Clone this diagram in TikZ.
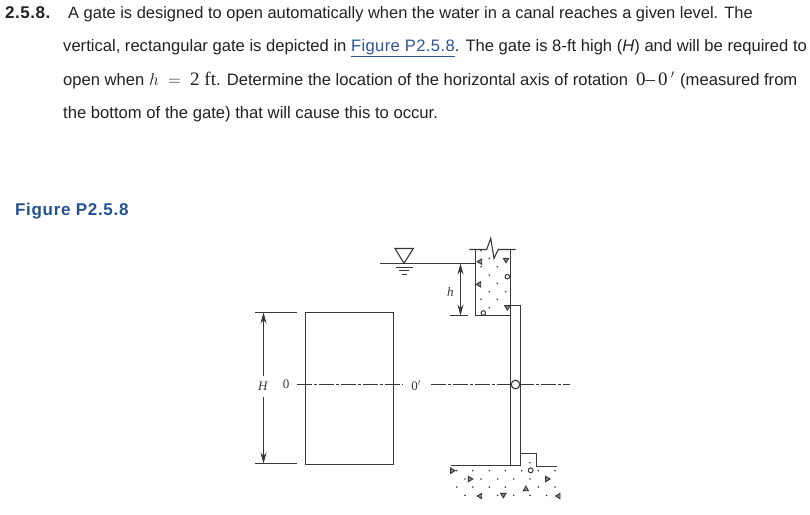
\documentclass[tikz,border=0pt]{standalone}
\usepackage{fontspec}
\setmainfont{Liberation Sans}
\newfontfamily\serifnum{Liberation Serif}
\usetikzlibrary{arrows.meta}
\definecolor{ink}{HTML}{222222}
\definecolor{linecol}{HTML}{383838}
\definecolor{linkblue}{HTML}{2F5597}
\definecolor{headblue}{HTML}{22528F}
\newcommand{\tri}[3]{\draw[linecol,line width=.9pt,fill=linecol!60,rotate around={#3:({370+#1/3},{230+#2/3})}] ({370+#1/3+2.8},{230+#2/3}) -- ({370+#1/3-1.7},{230+#2/3-2.7}) -- ({370+#1/3-1.7},{230+#2/3+2.7}) -- cycle;}
\newcommand{\trig}[3]{\draw[linecol,line width=.9pt,fill=linecol!60,rotate around={#3:({430+#1/3},{360+#2/3})}] ({430+#1/3+2.8},{360+#2/3}) -- ({430+#1/3-1.7},{360+#2/3-2.7}) -- ({430+#1/3-1.7},{360+#2/3+2.7}) -- cycle;}
\tikzset{
  x=1pt,y=-1pt,
  para/.style={anchor=base west,inner sep=0pt,text=ink,font=\fontsize{16.6}{19}\selectfont},
  lab/.style={inner sep=0pt,text=linecol,font=\serifnum\fontsize{13}{14}\selectfont},
  obj/.style={draw=linecol,line width=1.1pt},
  thin line/.style={draw=linecol,line width=1pt},
  axisline/.style={draw=linecol,line width=1pt,dash pattern=on 15pt off 2pt on 3pt off 2pt},
  dimarrow/.style={draw=linecol,line width=.7pt,-{Stealth[length=11pt,width=6pt]}},
}
\begin{document}
\begin{tikzpicture}
\useasboundingbox (0,0) rectangle (810,514);
\fill[white] (0,0) rectangle (810,514);

% text
\node[para,font=\fontsize{17}{19}\selectfont\bfseries\addfontfeature{LetterSpace=3}] (num) at (5,18.5) {2.5.8.};
\node[para,font=\fontsize{16.45}{19}\selectfont] (l1) at (68,18.5) {A gate is designed to open automatically when the water in a canal reaches a given level. The};
\node[para] (l2) at (63,51) {vertical, rectangular gate is depicted in \textcolor{linkblue}{\underline{\addfontfeature{LetterSpace=2.2}Figure P2.5.8}}. The gate is 8-ft high (\textit{H}) and will be required to};
\node[para] (l3) at (63,85) {open when {\fontsize{18.5}{19}\selectfont$h\;=\;$} {\serifnum\fontsize{19}{19}\selectfont 2 ft}. Determine the location of the horizontal axis of rotation {\serifnum\fontsize{19}{19}\selectfont \,0–\,0\,}$'$\,\,(measured from};
\node[para,font=\fontsize{16.65}{19}\selectfont] (l4) at (63,118) {the bottom of the gate) that will cause this to occur.};
\node[para,text=headblue,font=\fontsize{17}{19}\selectfont\bfseries\addfontfeature{LetterSpace=4}] (figt) at (15,215) {Figure P2.5.8};

% front view
\node[obj,minimum width=88pt,minimum height=152pt,inner sep=0pt] (plate) at (349.5,388.5) {};
\coordinate (tickTL) at (255,312.5); \coordinate (tickTR) at (296.7,312.5);
\coordinate (tickBL) at (255,463.5); \coordinate (tickBR) at (296.7,463.5);
\draw[thin line] (tickTL) -- (tickTR);
\draw[thin line] (tickBL) -- (tickBR);
\node[lab,font=\serifnum\itshape\fontsize{13}{14}\selectfont] (H) at (262.7,386.7) {H};
\node[lab] (zero) at (286,384.5) {0};
\node[lab] (zerop) at (416,385.5) {0$'$};
\coordinate (Htop) at (263.5,312.5); \coordinate (Hbot) at (263.5,463.5);
\coordinate (Hgap1) at (263.5,376); \coordinate (Hgap2) at (263.5,397);
\draw[dimarrow] (Hgap1) -- (Htop);
\draw[dimarrow] (Hgap2) -- (Hbot);
\coordinate (axA) at (296.7,384.5); \coordinate (axB) at (402.7,384.5);
\draw[axisline] (axA) -- (axB);

% section: wall
\coordinate (wTL) at (475.5,249.5); \coordinate (wBL) at (475.5,315.5);
\coordinate (wBR) at (510.5,315.5); \coordinate (wTR) at (510.5,249.5);
\draw[obj] (wTR) -- (wBR) -- (wBL) -- (wTL);
\draw[obj,line join=miter] (469.3,249.5) -- (486.7,249.5) -- (490.7,238.3) -- (494,258.3) -- (498.3,249.5) -- (515.7,249.5);

% water
\coordinate (wlA) at (380,263.5); \coordinate (wlB) at (475.5,263.5);
\draw[obj] (wlA) -- (wlB);
\draw[obj,line join=miter] (395,248.5) -- (413.3,248.5) -- (404,263.3) -- cycle;
\draw[obj] (396,267.5) -- (412.7,267.5);
\draw[obj] (399.3,270.5) -- (409.3,270.5);
\draw[obj] (401.7,274.5) -- (406.7,274.5);

% h dimension
\coordinate (hTop) at (460.5,263.5); \coordinate (hBot) at (460.5,315.5);
\coordinate (hMid) at (460.5,289);
\draw[dimarrow] (hMid) -- (hTop);
\draw[dimarrow] (hMid) -- (hBot);
\draw[obj] (450,315.5) -- (468.3,315.5);
\node[lab,font=\serifnum\itshape\fontsize{13}{14}\selectfont] (hlab) at (450.3,291.5) {h};

% gate
\coordinate (gTL) at (510.5,305.5); \coordinate (gTR) at (520.5,305.5);
\coordinate (gBR) at (520.5,465.5); \coordinate (gBL) at (510.5,465.5);
\draw[obj] (gTL) -- (gTR) -- (gBR);
\draw[obj] (gTL) -- (gBL);

% ground
\draw[obj] (450.7,465.5) -- (520.5,465.5);
\draw[obj] (520.5,453.5) -- (536.5,453.5) -- (536.5,466.5) -- (556.7,466.5);

% axis in section
\coordinate (ax2A) at (431,384.5); \coordinate (ax2B) at (570,384.5);
\draw[axisline] (ax2A) -- (ax2B);
\node[circle,draw=linecol,line width=1.1pt,fill=white,minimum size=8.6pt,inner sep=0pt] (hinge) at (515.5,384.5) {};

% wall aggregate
\foreach \a/\b in {333/62,358/85,382/110,333/110,358/135,382/160,358/185,407/185,333/208,382/208,358/233}
  \fill[linecol] ({370+\a/3},{230+\b/3}) circle (.9);
\tri{330}{95}{180}
\tri{408}{90}{-90}
\tri{327}{163}{180}
\tri{412}{232}{-90}
\draw[linecol,line width=1pt] ({370+412/3},{230+140/3}) circle (2.3);
\draw[linecol,line width=1pt] ({370+340/3},{230+249/3}) circle (2.3);

% ground aggregate
\foreach \a/\b in {80/332,128/332,178/332,226/332,275/332,325/332,375/332,300/308,
  105/357,153/357,203/357,251/357,300/357,
  80/381,128/381,178/381,226/381,325/381,375/381,
  105/406,203/406,251/406,300/406,350/406}
  \fill[linecol] ({430+\a/3},{360+\b/3}) circle (.9);
\trig{67}{332}{0}
\trig{120}{357}{0}
\trig{352}{357}{0}
\trig{288}{388}{-30}
\trig{150}{408}{180}
\trig{220}{405}{-90}
\trig{385}{408}{180}
\draw[linecol,line width=1pt] ({430+302/3},{360+331/3}) circle (2.4);
\end{tikzpicture}
\end{document}
